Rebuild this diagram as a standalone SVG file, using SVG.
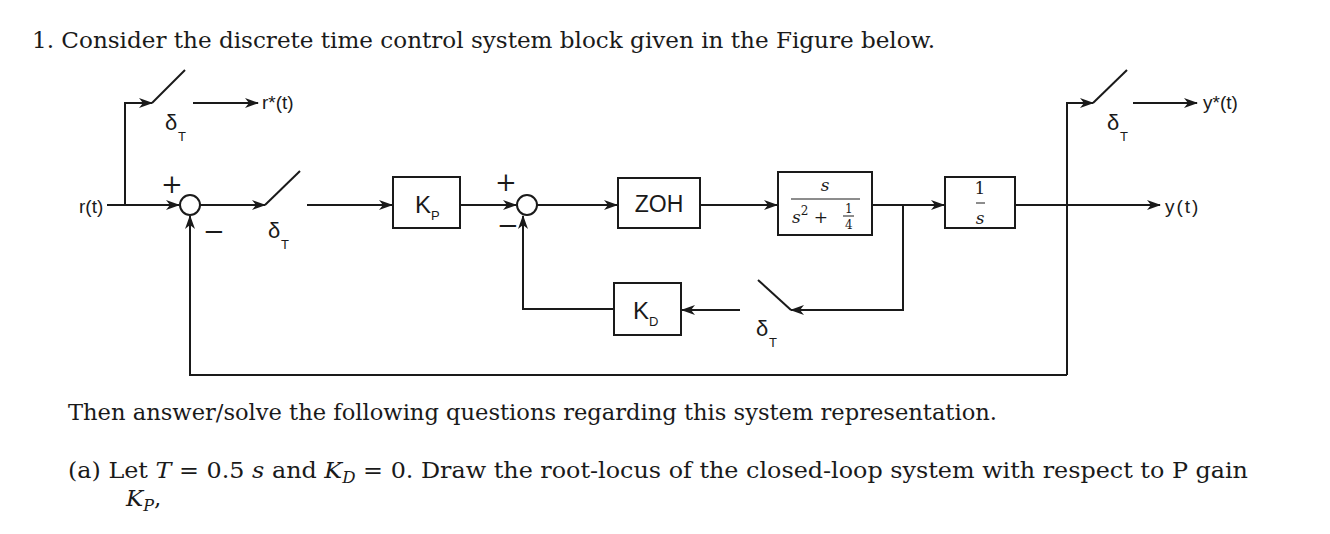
<svg xmlns="http://www.w3.org/2000/svg" width="1330" height="534" viewBox="0 0 1330 534">
<style>
.l{stroke:#1a1a1a;stroke-width:2;fill:none}
.b{stroke:#1a1a1a;stroke-width:2;fill:#fff}
.s{font-family:"Liberation Sans",Arial,sans-serif;fill:#1a1a1a}
.m{font-family:"DejaVu Serif","Liberation Serif",serif;fill:#1a1a1a}
.it{font-style:italic}
</style>
<defs><marker id="a" markerWidth="14" markerHeight="10" refX="13" refY="5" orient="auto" markerUnits="userSpaceOnUse"><path d="M0,0 L14,5 L0,10 L4,5 Z" fill="#1a1a1a"/></marker></defs>
<rect width="1330" height="534" fill="#fff"/>
<text class="m" x="32" y="48" font-size="23" textLength="903" lengthAdjust="spacingAndGlyphs">1. Consider the discrete time control system block given in the Figure below.</text>
<g id="connectors">
<path class="l" d="M107,205 H179" marker-end="url(#a)"/>
<path class="l" d="M125,205 V103 H152" marker-end="url(#a)"/>
<path class="l" d="M152,103 L185,70"/>
<path class="l" d="M193,103 H258" marker-end="url(#a)"/>
<path class="l" d="M200,205 H265" marker-end="url(#a)"/>
<path class="l" d="M265,205 L300,171"/>
<path class="l" d="M307,205 H392" marker-end="url(#a)"/>
<path class="l" d="M460,205 H516" marker-end="url(#a)"/>
<path class="l" d="M537,205 H617" marker-end="url(#a)"/>
<path class="l" d="M700,205 H777" marker-end="url(#a)"/>
<path class="l" d="M872,205 H944" marker-end="url(#a)"/>
<path class="l" d="M903,205 V310 H791" marker-end="url(#a)"/>
<path class="l" d="M791,310 L758,280"/>
<path class="l" d="M740,310 H682" marker-end="url(#a)"/>
<path class="l" d="M614,309 H523 V216" marker-end="url(#a)"/>
<path class="l" d="M1015,205 H1160" marker-end="url(#a)"/>
<path class="l" d="M1067,375 V103 H1093" marker-end="url(#a)"/>
<path class="l" d="M1093,103 L1127,70"/>
<path class="l" d="M1133,103 H1197" marker-end="url(#a)"/>
<path class="l" d="M1067,375 H190 V216" marker-end="url(#a)"/>
</g>
<g id="sum1"><circle class="b" cx="190" cy="205" r="10"/><text class="m" x="161" y="193" font-size="26">+</text><text class="m" x="203" y="240" font-size="26">−</text></g>
<g id="sum2"><circle class="b" cx="527" cy="205" r="10"/><text class="m" x="495" y="191" font-size="26">+</text><text class="m" x="497" y="234" font-size="26">−</text></g>
<g id="rt"><text class="s" x="79" y="213" font-size="19">r(t)</text></g>
<g id="rstar"><text class="s" x="262" y="109" font-size="19">r*(t)</text></g>
<g id="ystar"><text class="s" x="1203" y="109" font-size="19">y*(t)</text></g>
<g id="yt"><text class="s" x="1165" y="213" font-size="19" letter-spacing="2">y(t)</text></g>
<g id="d1"><text class="s" x="165" y="130" font-size="22">δ</text><text class="s" x="178" y="141" font-size="13">T</text></g>
<g id="d2"><text class="s" x="268" y="238" font-size="22">δ</text><text class="s" x="281" y="249" font-size="13">T</text></g>
<g id="d3"><text class="s" x="756" y="336" font-size="22">δ</text><text class="s" x="769" y="347" font-size="13">T</text></g>
<g id="d4"><text class="s" x="1107" y="130" font-size="22">δ</text><text class="s" x="1120" y="141" font-size="13">T</text></g>
<g id="kp"><rect class="b" x="393" y="177" width="67" height="51"/><text class="s" x="415" y="213" font-size="24">K</text><text class="s" x="431" y="220" font-size="13">P</text></g>
<g id="zoh"><rect class="b" x="618" y="178" width="82" height="50"/><text class="s" x="659" y="212" font-size="23" text-anchor="middle">ZOH</text></g>
<g id="plant"><rect class="b" x="778" y="172" width="94" height="63"/><text class="m it" x="825" y="191" font-size="17" text-anchor="middle">s</text><line x1="791" y1="199" x2="860" y2="199" stroke="#1a1a1a" stroke-width="1"/><text class="m" x="792" y="223" font-size="17"><tspan font-style="italic">s</tspan><tspan font-size="12" dy="-8">2</tspan><tspan dy="8"> +</tspan></text><text class="m" x="845" y="213" font-size="12">1</text><line x1="843" y1="216" x2="854" y2="216" stroke="#1a1a1a" stroke-width="1"/><text class="m" x="845" y="229" font-size="12">4</text></g>
<g id="integ"><rect class="b" x="945" y="177" width="70" height="51"/><text class="m" x="980" y="194" font-size="17" text-anchor="middle">1</text><line x1="976" y1="203" x2="985" y2="203" stroke="#1a1a1a" stroke-width="1"/><text class="m it" x="980" y="224" font-size="17" text-anchor="middle">s</text></g>
<g id="kd"><rect class="b" x="614" y="283" width="67" height="52"/><text class="s" x="633" y="319" font-size="24">K</text><text class="s" x="649" y="326" font-size="13">D</text></g>
<text class="m" x="68" y="420" font-size="23" textLength="929" lengthAdjust="spacingAndGlyphs">Then answer/solve the following questions regarding this system representation.</text>
<text class="m" x="68" y="478" font-size="23" textLength="1180" lengthAdjust="spacingAndGlyphs">(a) Let <tspan font-style="italic">T</tspan> = 0.5 <tspan font-style="italic">s</tspan> and <tspan font-style="italic">K</tspan><tspan font-size="16" font-style="italic" dy="5">D</tspan><tspan dy="-5"> = 0. Draw the root-locus of the closed-loop system with respect to P gain</tspan></text>
<text class="m" x="126" y="506" font-size="23"><tspan font-style="italic">K</tspan><tspan font-size="16" font-style="italic" dy="5">P</tspan><tspan dy="-5">,</tspan></text>
</svg>
